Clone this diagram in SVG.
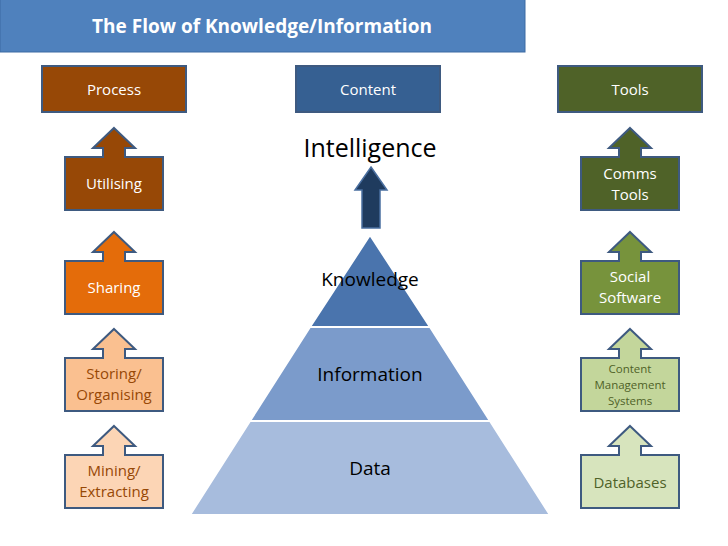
<svg xmlns="http://www.w3.org/2000/svg" width="728" height="546" viewBox="0 0 728 546">
<style>
text{font-family:"Open Sans","DejaVu Sans",sans-serif;text-anchor:middle}
.s{stroke:#3e5a80;stroke-width:2}
.w{fill:#fff;font-size:15px}
</style>
<defs>
<path id="ar" d="M0,-29 L21,-9 L11,-9 L11,0 L49,0 L49,53 L-49,53 L-49,0 L-11,0 L-11,-9 L-21,-9 Z"/>
</defs>
<rect width="728" height="546" fill="#fff"/>
<g id="title"><rect x="0" y="-2" width="525" height="54" fill="#4f81bd" stroke="#3d6ba3"/><text x="262" y="33" class="w" style="font-size:19px;font-weight:bold">The  Flow of Knowledge/Information</text></g>
<g id="process"><rect x="42" y="66" width="144" height="46" fill="#974806" class="s"/><text x="114" y="95" class="w">Process</text></g>
<g id="content"><rect x="296" y="66" width="144" height="46" fill="#366092" class="s"/><text x="368" y="95" class="w">Content</text></g>
<g id="tools"><rect x="558" y="66" width="144" height="46" fill="#4f6228" class="s"/><text x="630" y="95" class="w">Tools</text></g>
<g id="utilising"><use href="#ar" x="114" y="157" fill="#974806" class="s"/><text x="114" y="189" class="w">Utilising</text></g>
<g id="sharing"><use href="#ar" x="114" y="261" fill="#e46c0a" class="s"/><text x="114" y="293" class="w">Sharing</text></g>
<g id="storing"><use href="#ar" x="114" y="358" fill="#fac090" class="s"/><text x="114" y="379" style="font-size:15px;fill:#974806">Storing/</text><text x="114" y="400" style="font-size:15px;fill:#974806">Organising</text></g>
<g id="mining"><use href="#ar" x="114" y="455" fill="#fcd5b5" class="s"/><text x="114" y="476" style="font-size:15px;fill:#974806">Mining/</text><text x="114" y="497" style="font-size:15px;fill:#974806">Extracting</text></g>
<g id="comms"><use href="#ar" x="630" y="157" fill="#4f6228" class="s"/><text x="630" y="179" class="w">Comms</text><text x="630" y="200" class="w">Tools</text></g>
<g id="social"><use href="#ar" x="630" y="261" fill="#77933c" class="s"/><text x="630" y="282" class="w">Social</text><text x="630" y="303" class="w">Software</text></g>
<g id="cms"><use href="#ar" x="630" y="358" fill="#c3d69b" class="s"/><text x="630" y="373" style="font-size:11.5px;fill:#4f6228">Content</text><text x="630" y="389" style="font-size:11.5px;fill:#4f6228">Management</text><text x="630" y="405" style="font-size:11.5px;fill:#4f6228">Systems</text></g>
<g id="databases"><use href="#ar" x="630" y="455" fill="#d7e4bd" class="s"/><text x="630" y="488" style="font-size:15px;fill:#4f6228">Databases</text></g>
<g id="pyramid">
<polygon points="370,235 430,327 310,327" fill="#4a74ad" stroke="#fff" stroke-width="2"/>
<polygon points="310,327 430,327 490,421 250,421" fill="#7b9bcb" stroke="#fff" stroke-width="2"/>
<polygon points="250,421 490,421 550,515 190,515" fill="#a7bcdd" stroke="#fff" stroke-width="2"/>
<text x="370" y="286" style="font-size:19px;fill:#000">Knowledge</text>
<text x="370" y="381" style="font-size:19px;fill:#000">Information</text>
<text x="370" y="475" style="font-size:19px;fill:#000">Data</text>
</g>
<g id="intelligence"><text x="370" y="157" style="font-size:25px;fill:#000">Intelligence</text>
<polygon points="371,167 387,190 380,190 380,228 362,228 362,190 355,190" fill="#1f3b5e" stroke="#4a6fa0" stroke-width="1.5"/></g>
</svg>
